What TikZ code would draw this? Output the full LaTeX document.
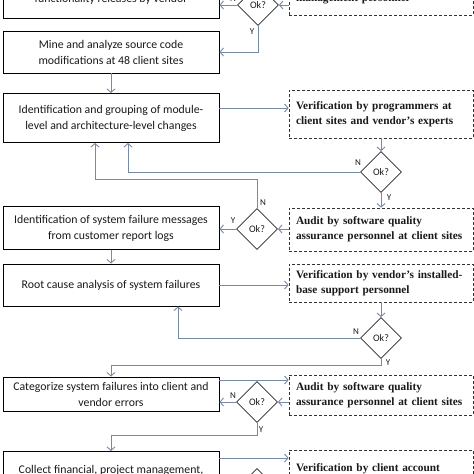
\documentclass[tikz,border=0pt]{standalone}
\usepackage{fontspec}
\setmainfont{Liberation Serif}
\newfontfamily\boxfont{Carlito}
\usetikzlibrary{shapes.geometric,arrows.meta}
\definecolor{flowline}{RGB}{118,138,163}
\definecolor{inkgray}{RGB}{25,25,25}
\begin{document}
\begin{tikzpicture}[x=1pt,y=-1pt,
  task/.style={draw=black,line width=0.9pt,minimum width=216pt,align=center,inner sep=0pt,
    font=\boxfont\fontsize{11.8}{16}\selectfont,text=inkgray},
  check/.style={draw=black!80,dash pattern=on 3pt off 2pt,line width=0.8pt,minimum width=184pt,
    text width=170pt,inner xsep=7pt,inner ysep=0pt,align=left,
    font=\fontsize{11.3}{15}\selectfont\bfseries,text=inkgray},
  ok/.style={diamond,draw=black!85,line width=0.8pt,minimum width=41pt,minimum height=41pt,
    inner sep=0pt,font=\boxfont\fontsize{10}{11}\selectfont,text=inkgray},
  yn/.style={font=\boxfont\fontsize{9}{10}\selectfont,inner sep=0pt,text=inkgray},
  flow/.style={draw=flowline,line width=0.9pt,-{Straight Barb[length=3.5pt,width=8pt]}}]
  \useasboundingbox (0,0) rectangle (474,474);
  \clip (0,0) rectangle (474,474);
  \node[task,minimum height=45pt] (b1) at (111,-4.5) {~\\functionality releases by vendor};
  \node[task,minimum height=42pt] (b2) at (111,52) {Mine and analyze source code\\modifications at 48 client sites};
  \node[task,minimum height=49pt] (b3) at (111,118) {Identification and grouping of module-\\level and architecture-level changes};
  \node[task,minimum height=43pt] (b4) at (111,228) {Identification of system failure messages\\from customer report logs};
  \node[task,minimum height=42pt] (b5) at (111,285) {Root cause analysis of system failures};
  \node[task,minimum height=34pt] (b6) at (111,394) {Categorize system failures into client and\\vendor errors};
  \node[task,minimum height=52pt,anchor=north] (b7) at (111,451) {Collect financial, project management,\\~};
  \node[check,minimum height=40pt] (d1) at (381,-5) {~\\management personnel};
  \node[check,minimum height=48pt] (d2) at (381,114) {Verification by programmers at\\client sites and vendor's experts};
  \node[check,minimum height=43pt] (d3) at (381,229.5) {Audit by software quality\\assurance personnel at client sites};
  \node[check,minimum height=38pt] (d4) at (381,283) {Verification by vendor's installed-\\base support personnel};
  \node[check,minimum height=40pt] (d5) at (381,395) {Audit by software quality\\assurance personnel at client sites};
  \node[check,minimum height=50pt,anchor=north] (d6) at (381,450) {Verification by client account\\~};
  \foreach \n/\x/\y in {k1/258/5,k2/381/172,k3/257/229,k4/381/338,k5/257/402,k6/257/489}
    \node[ok] (\n) at (\x,\y) {Ok?};
  \foreach \n/\t/\x/\y in {n1/N/233/-1,y1/Y/252/32,n2/N/358/163,y2/Y/389/198,y3/Y/233/221,
    n3/N/263/203,n4/N/356/332,y4/Y/388/363,n5/N/233/396,y5/Y/261/430}
    \node[yn] (\n) at (\x,\y) {\t};
  \draw[flow] (d1.west |- k1.east) -- (k1.east);
  \draw[flow] (k1.west) -- (k1.west -| b1.east);
  \draw[flow] (k1.south) |- (b2.east);
  \draw[flow] (b2) -- (b3);
  \draw[flow] ([yshift=10pt]b3.east) -- ([yshift=10pt]b3.east -| d2.west);
  \draw[flow] (d2) -- (k2);
  \draw[flow] (k2.west) -| ([xshift=17pt]b3.south);
  \draw[flow] (k2) -- (d3);
  \draw[flow] (d3.west |- k3.east) -- (k3.east);
  \draw[flow] (k3.west) -- (k3.west -| b4.east);
  \draw[flow] (k3.north) -- ++(0,-29) -| ([xshift=-16pt]b3.south);
  \draw[flow] (b4) -- (b5);
  \draw[flow] (b5.east) -- (b5.east -| d4.west);
  \draw[flow] (d4) -- (k4);
  \draw[flow] (k4.west) -| ([xshift=67pt]b5.south);
  \draw[flow] (k4.south) -- ++(0,7) -| (b6.north);
  \draw[flow] ([yshift=14pt]b6.east) -- ([yshift=14pt]b6.east -| d5.west);
  \draw[flow] (d5.west |- k5.east) -- (k5.east);
  \draw[flow] (k5.west) -- (k5.west -| b6.east);
  \draw[flow] (k5.south) -- ++(0,13) -| (b7.north);
  \draw[flow] ([yshift=-7pt]b7.north east) -- ([yshift=-7pt]b7.north east -| d6.west);
\end{tikzpicture}
\end{document}
